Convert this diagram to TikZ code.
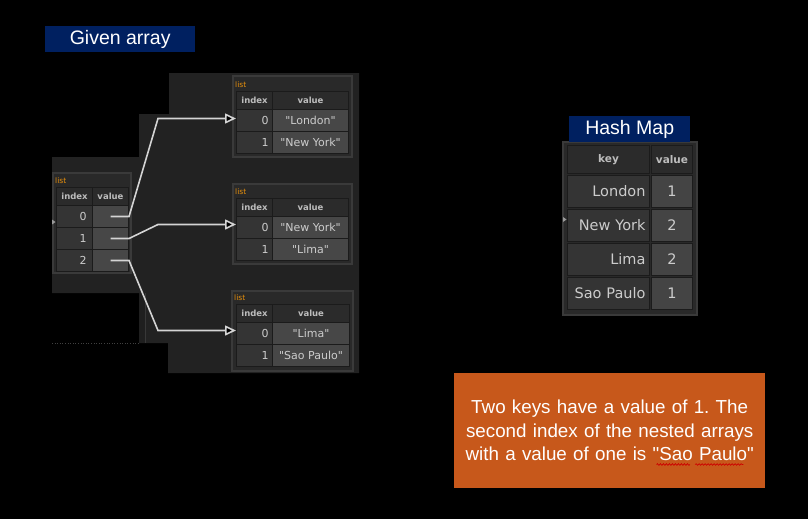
\documentclass[tikz,border=0pt]{standalone}
\usepackage{fontspec}
\setmainfont{Liberation Sans}
\newfontfamily\plainsans{Liberation Sans}
\newfontfamily\dv{DejaVu Sans}
\frenchspacing
\usetikzlibrary{arrows.meta,decorations.pathmorphing}
\definecolor{panel}{HTML}{222222}
\definecolor{framec}{HTML}{3A3A3A}
\definecolor{tabbg}{HTML}{292929}
\definecolor{hdrc}{HTML}{2B2B2B}
\definecolor{idxc}{HTML}{343434}
\definecolor{valc}{HTML}{474747}
\definecolor{gridc}{HTML}{1B1B1B}
\definecolor{txtc}{HTML}{CCCCCC}
\definecolor{hdrtxt}{HTML}{BDBDBD}
\definecolor{navy}{HTML}{002060}
\definecolor{orangebox}{RGB}{199,88,27}
\definecolor{listor}{HTML}{E8900C}
\definecolor{linec}{HTML}{D4D4D4}
\definecolor{wavered}{RGB}{205,0,0}
\newcommand\qt{\char34\relax}
\newcommand\notefont{\plainsans\fontsize{18.8}{23.5}\selectfont}
\newlength\LineW
\newlength\PreW
\newlength\SaoW
\newlength\SaoSpW
\newlength\PauW
\settowidth\LineW{\notefont with a value of one is \qt Sao Paulo\qt}
\settowidth\PreW{\notefont with a value of one is \qt}
\settowidth\SaoW{\notefont Sao}
\settowidth\SaoSpW{\notefont Sao\ }
\settowidth\PauW{\notefont Paulo}
\tikzset{
  base/.style={anchor=north west, inner sep=0pt, draw=gridc, line width=1pt},
  hcell/.style={base, fill=hdrc, text=hdrtxt, font=\dv\bfseries\fontsize{8.5}{10}\selectfont},
  icell/.style={base, fill=idxc, text=txtc, font=\dv\fontsize{11}{12}\selectfont, text width=28pt, inner xsep=4pt, align=right, minimum height=22pt},
  vcell/.style={base, fill=valc, text=txtc, font=\dv\fontsize{11}{12}\selectfont, minimum height=22pt},
  tframe/.style={draw=framec, fill=tabbg, line width=1.5pt},
  listlbl/.style={anchor=west, inner sep=0pt, text=listor, font=\dv\fontsize{7.5}{8}\selectfont},
  hkey/.style={base, fill=idxc, text=txtc, font=\dv\fontsize{14.5}{16}\selectfont, text width=74pt, inner xsep=4pt, align=right, minimum height=32pt},
  hval/.style={base, fill=valc!85!idxc, text=txtc, font=\dv\fontsize{14.5}{16}\selectfont, minimum width=41pt, minimum height=32pt},
  hhdr/.style={base, fill=hdrc, text=hdrtxt, font=\dv\bfseries\fontsize{10.5}{12}\selectfont, minimum height=28pt},
  title/.style={anchor=north west, fill=navy, text=white, inner sep=0pt, font=\plainsans\fontsize{19.5}{22}\selectfont},
  conn/.style={draw=linec, line width=1.6pt, -{Triangle[length=11pt, width=10pt, fill=black]}},
  tick/.style={fill=gray!80},
  squig/.style={draw=wavered, line width=0.7pt, decorate, decoration={snake, amplitude=0.8pt, segment length=3pt}}
}
\begin{document}
\begin{tikzpicture}[x=1pt, y=-1pt]
\fill[black] (0,0) rectangle (808,519);
% panel
\fill[panel] (169,73) -- (359,73) -- (359,373) -- (168,373) -- (168,343) -- (139,343) -- (139,293) -- (52,293) -- (52,157) -- (139,157) -- (139,114) -- (169,114) -- cycle;
\fill[black!88!white] (139,293) rectangle (146,343);
\draw[black!78!white, line width=0.8pt] (145,293) -- (145,343);
\draw[black!75!white, line width=0.6pt, dotted] (52,343) -- (139,343);

% title
\node[title, minimum width=150pt, minimum height=26pt] (gtitle) at (45,26) {Given array};

% left list
\draw[tframe] (53,173) rectangle (131,273);
\node[listlbl] (Llist) at (55,181) {list};
\node[hcell, minimum width=36pt, minimum height=18pt] (Lh1) at (56,187) {index};
\node[hcell, minimum width=36pt, minimum height=18pt] (Lh2) at (92,187) {value};
\node[icell] (Li0) at (56,205) {0\hspace*{2pt}};
\node[vcell, minimum width=36pt] (Lv0) at (92,205) {};
\node[icell] (Li1) at (56,227) {1\hspace*{2pt}};
\node[vcell, minimum width=36pt] (Lv1) at (92,227) {};
\node[icell] (Li2) at (56,249) {2\hspace*{2pt}};
\node[vcell, minimum width=36pt] (Lv2) at (92,249) {};
\fill[tick] (52,219.5) -- (55.5,222) -- (52,224.5) -- cycle;

% table 1
\draw[tframe] (233,76) rectangle (352,157);
\node[listlbl] (T1list) at (235,84.5) {list};
\node[hcell, minimum width=36pt, minimum height=18pt] (T1h1) at (236,91) {index};
\node[hcell, minimum width=76pt, minimum height=18pt] (T1h2) at (272,91) {value};
\node[icell] (T1i0) at (236,109) {0};
\node[vcell, minimum width=76pt] (T1v0) at (272,109) {\qt London\qt};
\node[icell] (T1i1) at (236,131) {1};
\node[vcell, minimum width=76pt] (T1v1) at (272,131) {\qt New York\qt};

% table 2
\draw[tframe] (233,184) rectangle (352,264);
\node[listlbl] (T2list) at (235,191.5) {list};
\node[hcell, minimum width=36pt, minimum height=18pt] (T2h1) at (236,198) {index};
\node[hcell, minimum width=76pt, minimum height=18pt] (T2h2) at (272,198) {value};
\node[icell] (T2i0) at (236,216) {0};
\node[vcell, minimum width=76pt] (T2v0) at (272,216) {\qt New York\qt};
\node[icell] (T2i1) at (236,238) {1};
\node[vcell, minimum width=76pt] (T2v1) at (272,238) {\qt Lima\qt};

% table 3
\draw[tframe] (232,291) rectangle (353,371);
\node[listlbl] (T3list) at (234,298) {list};
\node[hcell, minimum width=36pt, minimum height=18pt] (T3h1) at (236,304) {index};
\node[hcell, minimum width=77pt, minimum height=18pt] (T3h2) at (272,304) {value};
\node[icell] (T3i0) at (236,322) {0};
\node[vcell, minimum width=77pt] (T3v0) at (272,322) {\qt Lima\qt};
\node[icell] (T3i1) at (236,344) {1};
\node[vcell, minimum width=77pt] (T3v1) at (272,344) {\qt Sao Paulo\qt};

% connectors
\draw[conn] (Lv0.center) -- (Lv0.east) -- ([xshift=-78pt,yshift=2pt]T1i0.west) -- ([yshift=2pt]T1i0.west);
\draw[conn] (Lv1.center) -- (Lv1.east) -- ([xshift=-78pt,yshift=3pt]T2i0.west) -- ([yshift=3pt]T2i0.west);
\draw[conn] (Lv2.center) -- (Lv2.east) -- ([xshift=-78pt,yshift=3pt]T3i0.west) -- ([yshift=3pt]T3i0.west);

% hash map
\draw[tframe] (563,142) rectangle (697,315);
\node[hhdr, minimum width=82pt] (Hk) at (567,145) {key};
\node[hhdr, minimum width=41pt] (Hv) at (651,145) {value};
\node[hkey] (Hk1) at (567,175) {London};
\node[hval] (Hv1) at (651,175) {1};
\node[hkey] (Hk2) at (567,209) {New York};
\node[hval] (Hv2) at (651,209) {2};
\node[hkey] (Hk3) at (567,243) {Lima};
\node[hval] (Hv3) at (651,243) {2};
\node[hkey] (Hk4) at (567,277) {Sao Paulo};
\node[hval] (Hv4) at (651,277) {1};
\fill[tick] (563,217) -- (566.5,219.5) -- (563,222) -- cycle;
\node[title, minimum width=121pt, minimum height=26pt] (htitle) at (569,116) {Hash Map};

% note
\node[anchor=north west, fill=orangebox, text=white, inner sep=0pt, minimum width=311pt, minimum height=115pt, text width=311pt, align=center, font=\notefont] (note) at (454,373) {Two keys have a value of 1. The\\second index of the nested arrays\\with a value of one is \qt Sao Paulo\qt};
\draw[squig] ({609.5pt-0.5*\LineW+\PreW}, -464.5pt) -- ({609.5pt-0.5*\LineW+\PreW+\SaoW}, -464.5pt);
\draw[squig] ({609.5pt-0.5*\LineW+\PreW+\SaoSpW}, -464.5pt) -- ({609.5pt-0.5*\LineW+\PreW+\SaoSpW+\PauW}, -464.5pt);
\end{tikzpicture}
\end{document}
